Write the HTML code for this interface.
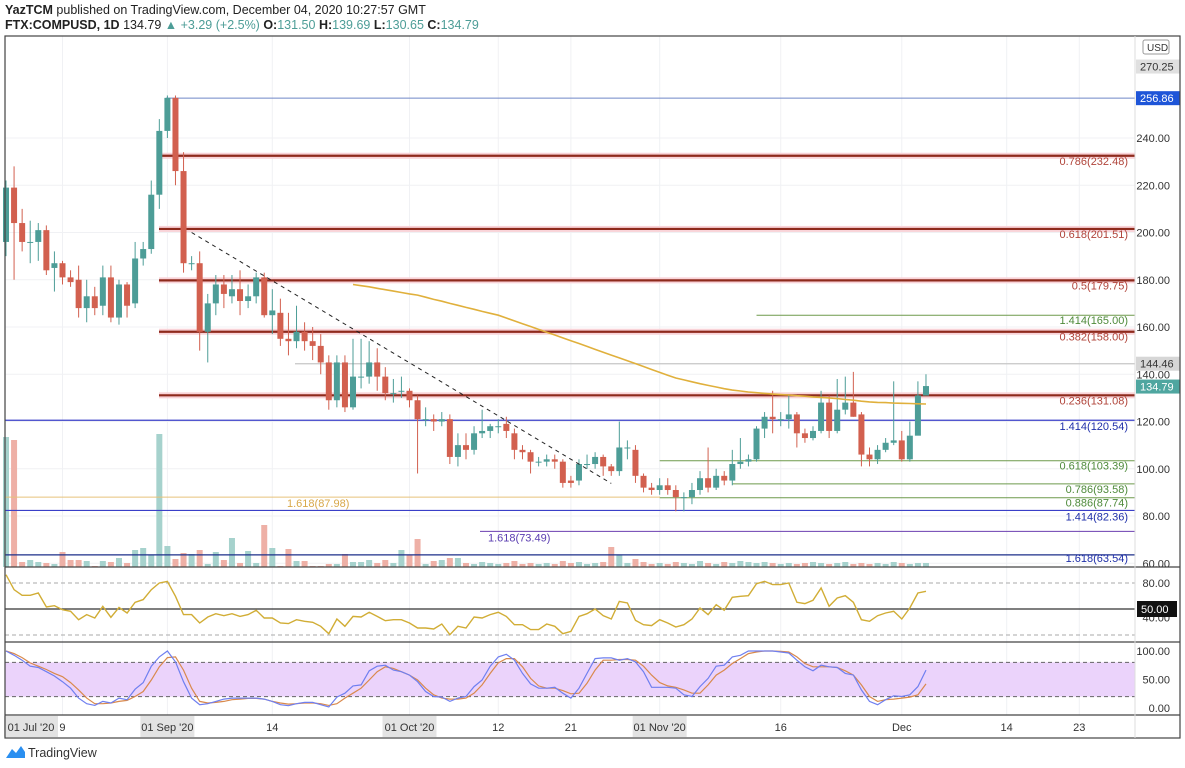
<!DOCTYPE html>
<html><head><meta charset="utf-8"><style>
html,body{margin:0;padding:0;background:#fff;width:1185px;height:768px;overflow:hidden}
svg{display:block;font-family:"Liberation Sans",sans-serif}
</style></head><body>
<svg id="c" width="1185" height="768" viewBox="0 0 1185 768">
<text x="5" y="14" font-size="12.5" fill="#222"><tspan font-weight="bold">YazTCM</tspan> published on TradingView.com, December 04, 2020 10:27:57 GMT</text>
<text x="5" y="29" font-size="12.5" fill="#222"><tspan font-weight="bold">FTX:COMPUSD, 1D</tspan> 134.79 <tspan fill="#4d9d97">▲ +3.29 (+2.5%)</tspan> <tspan font-weight="bold">O:</tspan><tspan fill="#4d9d97">131.50</tspan> <tspan font-weight="bold">H:</tspan><tspan fill="#4d9d97">139.69</tspan> <tspan font-weight="bold">L:</tspan><tspan fill="#4d9d97">130.65</tspan> <tspan font-weight="bold">C:</tspan><tspan fill="#4d9d97">134.79</tspan></text>
<g id="grid"></g><g id="vol"></g><g id="levels"></g><g id="candles"></g><g id="over"></g><g id="axes"></g>
<rect x="5" y="36" width="1175" height="702" fill="none" stroke="#444" stroke-width="1.2"/>
<line x1="5" y1="567" x2="1180" y2="567" stroke="#444" stroke-width="1.2"/>
<line x1="5" y1="642" x2="1180" y2="642" stroke="#444" stroke-width="1.2"/>
<line x1="5" y1="715" x2="1180" y2="715" stroke="#444" stroke-width="1.2"/>
<line x1="1135" y1="36" x2="1135" y2="738" stroke="#ddd" stroke-width="1"/>
<g><path d="M6 758 L12 749 L16 753 L21 746 L25 752 L25 758 Z" fill="#2a8ff0"/><text x="28" y="757" font-size="12.5" fill="#333">TradingView</text></g>
</svg>
<script>
const opens=[196,219,204,196,196,201,185,187,181,180,168,173,169,181,164,178,170,189,193,216,243,257,226,187,187,158,170,178,173,176,171,173,181,165,166,155,154,158,154,152,145,129,145,126,139,139,145,139,132,133,133,129,121,121,120,121,105,110,108,115,116,118,119,115,108,107,103,103,104,103,95,95,102,102,105,101,99,109,108,97,92,91,93,91,88,88,91,96,92,97,95,102,103,104,117,122,121,121,123,115,113,116,128,116,125,128,123,106,104,108,111,112,104,114,131];
const closes=[219,204,196,196,201,184,187,181,179,168,173,168,181,164,178,169,189,193,216,243,257,226,187,187,158,170,178,174,176,171,173,181,165,167,155,154,158,154,152,145,129,145,126,139,139,145,139,132,132,133,129,121,121,120,121,105,110,108,115,116,118,118,116,108,107,103,103,104,103,94,94,102,102,105,101,99,109,109,97,92,91,93,91,88,88,91,96,92,97,95,102,103,104,117,122,121,121,123,115,113,116,128,116,125,128,122,106,104,108,111,112,104,114,131,135];
const highs=[222,228,210,205,204,203,192,188,184,186,180,177,186,186,180,179,196,196,222,248,258,258,234,190,192,174,182,182,182,184,178,183,183,176,172,166,169,162,160,157,148,148,148,155,155,154,151,143,138,139,134,131,126,123,124,123,115,115,118,125,119,121,122,117,110,108,105,106,106,104,97,104,106,107,106,102,120,112,110,98,94,96,96,93,90,94,99,109,100,99,108,113,106,118,124,133,124,131,124,117,118,133,131,138,139,141,124,109,110,113,137,116,120,137,140];
const lows=[190,180,192,187,188,182,175,178,177,164,162,165,165,162,161,164,168,186,191,210,240,220,183,184,150,145,165,168,170,165,168,170,164,157,152,148,151,150,146,140,125,126,124,125,134,136,133,129,128,130,126,98,118,116,118,102,101,104,106,113,113,115,113,104,104,98,101,101,100,92,92,93,100,100,97,97,97,104,94,90,89,89,89,82,82,85,89,90,91,93,93,100,101,103,113,115,118,117,109,111,112,115,113,115,123,122,101,101,102,107,110,103,103,122,131];
const volumes=[130,127,5,7,5,4,3,15,7,7,6,1,6,5,9,4,17,19,12,133,21,8,14,13,17,3,15,7,29,4,16,4,42,19,1,18,6,6,1,1,3,3,13,5,5,7,4,7,4,17,12,28,3,6,7,9,9,4,3,5,4,3,4,6,3,4,3,4,3,6,4,5,3,4,5,20,12,4,8,5,3,4,3,5,4,3,6,4,3,5,4,6,5,4,5,4,3,4,3,4,5,4,3,4,5,3,4,3,4,3,5,4,3,4,4];
const maStart=43;
const maValues=[178,177.5,177,176.4,175.8,175.2,174.6,174,173.5,172.6,171.7,170.9,170,169.2,168.3,167.5,166.6,165.8,165,163.8,162.6,161.4,160.2,159,157.8,156.6,155.4,154.2,153,151.8,150.5,149.3,148.1,146.9,145.7,144.5,143.3,142,140.8,139.6,138.4,137.6,136.8,136,135.3,134.6,133.9,133.3,132.9,132.5,132.2,131.9,131.6,131.4,131.2,130.9,130.7,130.4,130.2,130,129.7,129.3,129,128.6,128.3,128.1,128,127.8,127.7,127.6,127.5,127.4];
const rsiValues=[89.6,72.3,65.8,65.8,68.5,52.3,53.8,49.2,47.3,37.7,43.5,39.6,53.1,40.4,51.9,45.4,57.7,60.8,72.3,80,81.9,64.6,43.5,43.5,33.8,40.8,44.6,42.3,44.6,41.5,43.5,48.5,39.6,39.6,33.8,33.1,37.7,35.8,34.6,30,21.5,38.5,30,41.5,40.8,46.2,41.5,36.5,37.7,37.7,33.8,28.1,28.1,26.9,32.7,20.4,30,28.1,40.8,39.6,43.5,46.2,41.5,31.9,31.9,26.2,26.2,32.7,30,21.5,24.2,41.5,44.6,50,42.3,38.5,58.8,56.9,36.9,31.9,30.8,37.7,33.8,29.2,31.9,38.5,51.2,43.5,55,48.5,63.5,64.6,65.4,79.2,81.9,78.1,78.1,80,57.7,56.2,60,74.2,53.1,62.7,65.4,57.7,37.7,35.8,42.3,45.4,47.3,38.5,51.2,68.5,70.4];
const stochK=[100,92.5,83.8,73.4,71.1,63.6,56.1,46.2,34.7,17.3,7.5,4.6,11.6,8.7,17.3,14.5,32.9,44.5,73.4,89.6,100,80.9,46.2,17.3,5.8,7.5,11.6,15.6,17.3,17.3,17.3,17.3,15.6,11.6,5.8,4.0,7.5,9.8,9.8,5.8,1.7,19.1,26,38.7,40.5,65.3,73.4,75.1,66.5,63.6,57.8,46.2,28.9,20.2,19.1,11.6,17.3,20.2,37.6,49.1,73.4,89.6,94.2,83.8,60.7,42.2,34.7,34.7,36.4,26,17.3,34.7,60.7,86.7,87.9,87.9,83.8,86.7,80.9,63.6,36.4,36.4,36.4,34.7,23.1,20.2,37.6,52,73.4,75.1,89.6,92.5,100,100,100,100,98.3,96.5,83.8,72.3,65.3,75.1,72.3,71.1,60.7,57.8,31.8,11.6,5.8,14.5,21.4,20.2,23.1,37.6,66.5];
const stochD=[100,95.4,88.4,79.2,73.4,67.6,60.7,54.9,44.5,31.8,17.3,7.5,7.5,8.7,11.6,13.3,20.2,28.9,49.1,72.3,88.4,89.6,66.5,34.7,11.6,8.7,9.8,11.6,14.5,15.6,16.8,16.8,15.6,11.6,8.7,6.9,7.5,8.7,8.7,7.5,4.6,7.5,17.3,26,34.7,49.1,63.6,72.3,69.4,63.6,57.8,49.1,34.7,23.1,17.3,15.6,15.6,17.3,26,40.5,60.7,79.2,86.7,86.7,72.3,52,38.7,34.7,34.7,30.6,24.9,26,43.4,66.5,83.8,83.8,85,85,83.8,73.4,57.8,44.5,38.7,36.4,31.8,26,26,40.5,57.8,66.5,78,86.7,95.4,98.3,100,100,99.4,98.3,89.6,78,72.3,72.3,72.3,71.1,65.3,57.8,40.5,20.2,11.6,14.5,15.6,17.3,19.1,23.1,42.2];
const priceTicks=[240,220,200,180,160,140,120,100,80,60];
const dateLabels=["01 Jul '20","9","01 Sep '20","14","01 Oct '20","12","21","01 Nov '20","16","Dec","14","23"];
const dateIdx=[-0.1,7,20,33,50,61,70,81,96,111,124,133];
const fibLevels=[232.48,201.51,179.75,158.00,131.08];
const fibNames=["0.786","0.618","0.5","0.382","0.236"];
const greenLevels=[165.00,103.39,93.58,87.74];
const greenNames=["1.414","0.618","0.786","0.886"];
const greenStart=[93,81,90,81];
const blueLevels=[120.54,82.36,63.54];

const NS="http://www.w3.org/2000/svg";
const X=i=>6+8.07*i;
const Y=p=>516-(p-80)*2.3625;
const YR=v=>609-(v-50)*0.8667;
const YS=v=>708-v*0.57;
function mk(tag,attrs,parent,txt){const e=document.createElementNS(NS,tag);for(const k in attrs)e.setAttribute(k,attrs[k]);if(txt!==undefined)e.textContent=txt;document.getElementById(parent).appendChild(e);return e;}
const UP="#4d9d97",DN="#d2604f";

// grid
priceTicks.forEach(p=>{const l=mk('line',{x1:5,x2:1135,y1:Y(p),y2:Y(p),stroke:'#f0f1f4'},'grid');

});
dateIdx.forEach(i=>{const l=mk('line',{x1:X(i),x2:X(i),y1:36,y2:715,stroke:'#f0f1f4'},'grid');

});

// volume
volumes.forEach((v,i)=>{const up=closes[i]>=opens[i];const r=mk('rect',{x:X(i)-3,y:567-v,width:6,height:v,fill:up?'#a6d2cd':'#eeb0a6'},'vol');

});

// levels
fibLevels.forEach((p,k)=>{const y=Y(p);
mk('rect',{x:159,y:y-3,width:976,height:6,fill:'#f9d3d8'},'levels');
const l=mk('line',{x1:159,x2:1135,y1:y,y2:y,stroke:'#8e2a1c','stroke-width':2.2},'levels');


const t=mk('text',{x:1128,y:y+9,'font-size':11,fill:'#b0443a','text-anchor':'end'},'levels',fibNames[k]+'('+p.toFixed(2)+')');

});
greenLevels.forEach((p,k)=>{const y=Y(p);
const l=mk('line',{x1:X(greenStart[k]),x2:1135,y1:y,y2:y,stroke:'#6e9a4c','stroke-width':1},'levels');


const t=mk('text',{x:1128,y:y+9,'font-size':11,fill:'#4e8a3a','text-anchor':'end'},'levels',greenNames[k]+'('+p.toFixed(2)+')');

});
blueLevels.forEach(p=>{const y=Y(p);
const l=mk('line',{x1:5,x2:1135,y1:y,y2:y,stroke:p<70?'#1c2f8a':'#3a3fc8','stroke-width':1.2},'levels');


const t=mk('text',{x:1128,y:y+(p<70?7:10),'font-size':11,fill:'#1f2fa8','text-anchor':'end'},'levels',(p<70?'1.618':'1.414')+'('+p.toFixed(2)+')');

});
(function(){
let y=Y(256.86);let l=mk('line',{x1:166,x2:1135,y1:y,y2:y,stroke:'#6f86c8','stroke-width':1},'levels');

y=Y(144.46);l=mk('line',{x1:295,x2:1135,y1:y,y2:y,stroke:'#c6c6c6','stroke-width':1.2},'levels');

y=Y(87.98);l=mk('line',{x1:5,x2:660,y1:y,y2:y,stroke:'#e6c27a','stroke-width':1},'levels');

let t=mk('text',{x:287,y:y+10,'font-size':11,fill:'#d8a84a'},'levels','1.618(87.98)');

y=Y(73.49);l=mk('line',{x1:480,x2:1135,y1:y,y2:y,stroke:'#6c3fb0','stroke-width':1},'levels');

t=mk('text',{x:488,y:y+10,'font-size':11,fill:'#5a3cb0'},'levels','1.618(73.49)');

})();

// candles
opens.forEach((o,i)=>{const c=closes[i];const up=c>=o;const col=up?UP:DN;
const w=mk('line',{x1:X(i),x2:X(i),y1:Y(highs[i]),y2:Y(lows[i]),stroke:col,'stroke-width':1},'candles');


const top=Y(Math.max(o,c)),bot=Y(Math.min(o,c));
const b=mk('rect',{x:X(i)-3,y:top,width:6,height:Math.max(1,bot-top),fill:col},'candles');

});

// MA
let d='';maValues.forEach((v,k)=>{d+=(k?'L':'M')+X(maStart+k).toFixed(1)+' '+Y(v).toFixed(1);});
let ma=mk('path',{d:d,fill:'none',stroke:'#e0b03c','stroke-width':1.6},'over');


// trendline
let tl=mk('line',{x1:X(23),y1:Y(200),x2:X(75),y2:Y(93.8),stroke:'#222','stroke-width':1,'stroke-dasharray':'4 4'},'over');



// RSI pane
[80,20].forEach(v=>{const l=mk('line',{x1:5,x2:1135,y1:YR(v),y2:YR(v),stroke:'#aaa','stroke-dasharray':'4 3'},'over');

});
let m=mk('line',{x1:5,x2:1135,y1:YR(50),y2:YR(50),stroke:'#333','stroke-width':1.2},'over');


d='';rsiValues.forEach((v,i)=>{d+=(i?'L':'M')+X(i).toFixed(1)+' '+YR(v).toFixed(1);});
let rl=mk('path',{d:d,fill:'none',stroke:'#d1ad35','stroke-width':1.4},'over');



// Stoch pane
let bg=mk('rect',{x:5,y:YS(80),width:1130,height:YS(20)-YS(80),fill:'#ebd3fb'},'over');


[80,20].forEach(v=>{const l=mk('line',{x1:5,x2:1135,y1:YS(v),y2:YS(v),stroke:'#666','stroke-dasharray':'4 3'},'over');

});
d='';stochD.forEach((v,i)=>{d+=(i?'L':'M')+X(i).toFixed(1)+' '+YS(v).toFixed(1);});
let sd=mk('path',{d:d,fill:'none',stroke:'#d9894c','stroke-width':1.2},'over');


d='';stochK.forEach((v,i)=>{d+=(i?'L':'M')+X(i).toFixed(1)+' '+YS(v).toFixed(1);});
let sk=mk('path',{d:d,fill:'none',stroke:'#6f7ff0','stroke-width':1.2},'over');



// price axis
priceTicks.forEach(p=>{const t=mk('text',{x:1170,y:Y(p)+4,'font-size':11,fill:'#333','text-anchor':'end'},'axes',p.toFixed(2));

});
function box(p,txt,bgc,fc,name){const y=Y(p);
const r=mk('rect',{x:1136,y:y-7,width:44,height:14,fill:bgc},'axes');


mk('text',{x:1140,y:y+4,'font-size':11,fill:fc},'axes',txt);}
box(270.25,'270.25','#e0e0e0','#333','high-price-marker');
box(256.86,'256.86','#1e55d8','#fff','level-price-marker');
box(144.46,'144.46','#d6d6d6','#333','resistance-price-marker');
box(134.79,'134.79','#4fa6a0','#fff','last-price-marker');
let u=mk('rect',{x:1143,y:40,width:26,height:14,fill:'#fff',stroke:'#999',rx:2},'axes');


mk('text',{x:1147,y:51,'font-size':10,fill:'#333'},'axes','USD');
[[80,'80.00'],[40,'40.00']].forEach(a=>{const t=mk('text',{x:1170,y:YR(a[0])+4,'font-size':11,fill:'#333','text-anchor':'end'},'axes',a[1]);

});
let rb=mk('rect',{x:1137,y:YR(50)-8,width:40,height:16,fill:'#111'},'axes');


mk('text',{x:1141,y:YR(50)+4,'font-size':11,fill:'#fff'},'axes','50.00');
[[100,'100.00'],[50,'50.00'],[0,'0.00']].forEach(a=>{const t=mk('text',{x:1170,y:YS(a[0])+4,'font-size':11,fill:'#333','text-anchor':'end'},'axes',a[1]);

});

// time axis
dateLabels.forEach((s,k)=>{const x=k===0?31:X(dateIdx[k]);const boxed=s.indexOf("'")>=0;
if(boxed){const r=mk('rect',{x:x-27,y:716,width:54,height:21,fill:'#e3e3e3'},'axes');

}
const t=mk('text',{x:x,y:731,'font-size':11,fill:'#333','text-anchor':'middle'},'axes',s);

});
</script>
</body></html>
